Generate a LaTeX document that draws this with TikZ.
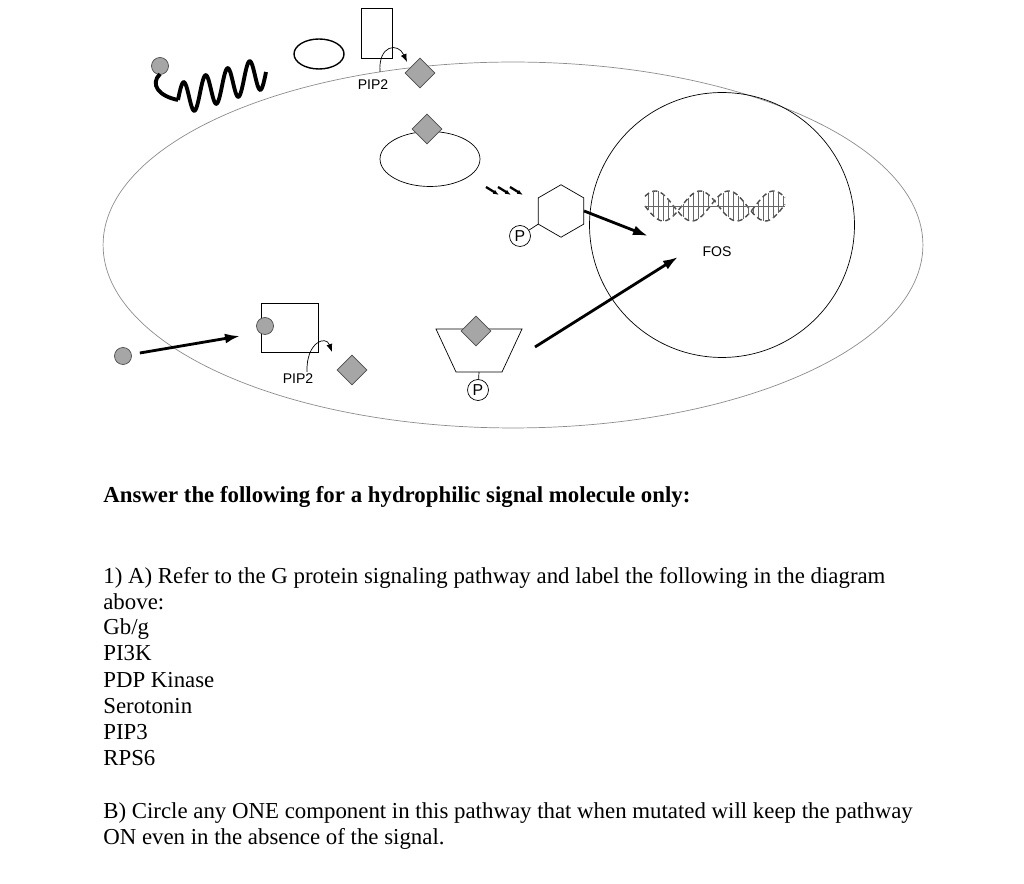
\documentclass[tikz,border=0pt]{standalone}
\usepackage{fontspec}
\setmainfont{Liberation Serif}
\newfontfamily\sansfont{Liberation Sans}
\usetikzlibrary{shapes.geometric,arrows.meta}
\tikzset{
  ligand/.style={circle, draw=black!70, fill=black!35, minimum size=0.34cm, inner sep=0pt},
  messenger/.style={diamond, draw=black!70, fill=black!35, minimum size=0.6cm, inner sep=0pt},
  phos/.style={circle, draw, minimum size=0.42cm, inner sep=0pt, font=\sansfont\small},
  lbl/.style={font=\sansfont\footnotesize},
  thick arrow/.style={line width=1.6pt, -{Latex[length=3mm,width=2mm]}},
  txt/.style={anchor=base west, inner sep=0pt, font=\fontsize{13}{15}\selectfont},
}
\begin{document}
\begin{tikzpicture}[x=0.02cm, y=-0.02cm]
		\useasboundingbox (0,0) rectangle (1024,884);
		% cell and nucleus
		\node[ellipse, draw=black!45, minimum width=16.4cm, minimum height=7.32cm] (cell) at (513,245) {};
		\node[circle, draw, minimum size=5.3cm] (nucleus) at (722,225) {};
		% receptor at the top
		\node[ligand] (sig1) at (160,66) {};
		\draw[line width=2.2pt] (160,74) .. controls (150,84) and (158,96) .. (178,100)
			plot[domain=0:1440, samples=150, smooth] ({178+\x/360*22}, {100-\x/360*7-16*sin(\x)});
		\node[ellipse, draw, thick, minimum width=1cm, minimum height=0.6cm] (galpha) at (319,54) {};
		\node[rectangle, draw, minimum width=0.62cm, minimum height=1cm] (pik1) at (377,33) {};
		\coordinate (pa1) at (380,72);
		\coordinate (pb1) at (407,62);
		\draw[-{Latex[length=1.6mm]}] (pa1) .. controls (378,45) and (398,42) .. (pb1);
		\node[lbl] (pip1) at (373,85) {PIP2};
		\node[messenger] (dg1) at (420,73) {};
		% vesicle and kinase
		\node[ellipse, draw, minimum width=2cm, minimum height=1.1cm] (akt) at (430,159) {};
		\node[messenger] (dg2) at (427,129) {};
		\foreach \x in {0,12,24} \draw[line width=1.3pt, -{Latex[length=1.2mm]}] (486+\x,187) -- (499+\x,195);
		\node[regular polygon, regular polygon sides=6, shape border rotate=30, draw, minimum size=1.05cm, inner sep=0pt] (s6k) at (561,211) {};
		\node[phos] (ph1) at (520,236) {P};
		\draw (ph1) -- (s6k.210);
		\draw[thick arrow] (s6k.east) -- (648,236);
		% DNA
		\begin{scope}[black!70, densely dashed, thick]
		\draw plot[domain=645:785, samples=80, smooth] (\x, {206+15*sin((\x-645)*4.9)});
		\draw plot[domain=645:785, samples=80, smooth] (\x, {206-15*sin((\x-645)*4.9+40)});
		\end{scope}
		\foreach \x in {648,653,...,783} \draw[black!60] (\x, {206+15*sin((\x-645)*4.9)}) -- (\x, {206-15*sin((\x-645)*4.9+40)});
		\draw[black!60] (645,206) -- (785,206);
		\node[lbl] (fos) at (717,252) {FOS};
		% receptor at the bottom
		\node[ligand] (sig2) at (123,356) {};
		\node[rectangle, draw, minimum width=1.14cm, minimum height=0.98cm] (pik2) at (290,328) {};
		\node[ligand] (sig3) at (265,326) {};
		\draw[thick arrow] (sig2.east) ++(8,-3) -- (240,336);
		\coordinate (pa2) at (307,372);
		\coordinate (pb2) at (332,352);
		\draw[-{Latex[length=1.6mm]}] (pa2) .. controls (306,342) and (326,335) .. (pb2);
		\node[lbl] (pip2) at (298,379) {PIP2};
		\node[messenger] (dg3) at (352,370) {};
		% trapezoid kinase
		\coordinate (pkc) at (479,372);
		\draw (436,329) -- (522,329) -- (502,372) -- (456,372) -- cycle;
		\node[messenger] (dg4) at (476,331) {};
		\node[phos] (ph2) at (478,390) {P};
		\draw (ph2) -- (pkc);
		\draw[thick arrow] (535,347) -- (678,257);
		% question text
		\node[txt, font=\fontsize{13}{15}\selectfont\bfseries] (q0) at (103,503) {Answer the following for a hydrophilic signal molecule only:};
		\node[txt] (q1) at (103,583) {1) A) Refer to the G protein signaling pathway and label the following in the diagram};
		\node[txt] (q2) at (103,609) {above:};
		\node[txt] (q3) at (103,635) {Gb/g};
		\node[txt] (q4) at (103,661) {PI3K};
		\node[txt] (q5) at (103,687) {PDP Kinase};
		\node[txt] (q6) at (103,713) {Serotonin};
		\node[txt] (q7) at (103,739) {PIP3};
		\node[txt] (q8) at (103,765) {RPS6};
		\node[txt] (q9) at (103,818) {B) Circle any ONE component in this pathway that when mutated will keep the pathway};
		\node[txt] (q10) at (103,844) {ON even in the absence of the signal.};
\end{tikzpicture}
\end{document}
